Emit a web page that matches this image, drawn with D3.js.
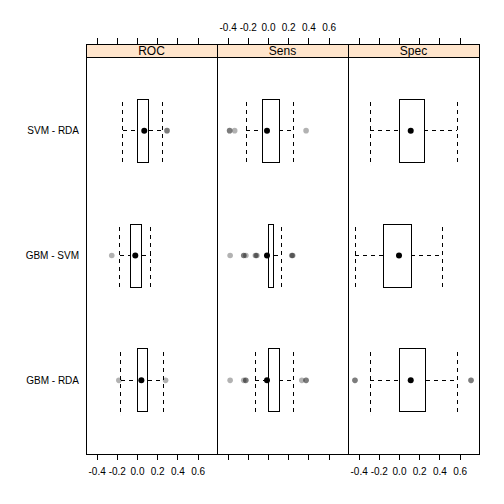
<!DOCTYPE html>
<html>
<head>
<meta charset="utf-8">
<script src="https://cdn.jsdelivr.net/npm/d3@7"></script>
<style>
  body { margin: 0; background: #fff; }
  text { font-family: "Liberation Sans", Arial, sans-serif; }
  line, rect { shape-rendering: crispEdges; }
</style>
</head>
<body>
<div id="chart-area"></div>
<script>
// DATA
var metrics = ["ROC", "Sens", "Spec"];
var comparisons = ["SVM - RDA", "GBM - SVM", "GBM - RDA"];
var ticks = [-0.4, -0.2, 0.0, 0.2, 0.4, 0.6];

// [lower whisker, q1, median, q3, upper whisker] per comparison
var rocStats = [
    [-0.143, 0.0, 0.072, 0.115, 0.257],
    [-0.172, -0.063, -0.017, 0.046, 0.135],
    [-0.162, 0.0, 0.043, 0.105, 0.264]
];
var sensStats = [
    [-0.214, -0.059, -0.01, 0.109, 0.248],
    [0.0, 0.0, -0.01, 0.059, 0.13],
    [-0.128, 0.0, -0.01, 0.109, 0.248]
];
var specStats = [
    [-0.287, 0.0, 0.116, 0.248, 0.578],
    [-0.432, -0.149, 0.0, 0.119, 0.426],
    [-0.287, 0.0, 0.116, 0.267, 0.578]
];

// outliers per comparison (repeated values overlap and look darker)
var rocOut = [
    [0.297, 0.297],
    [-0.25],
    [-0.18, 0.283]
];
var sensOut = [
    [-0.38, -0.38, -0.33, 0.377],
    [-0.375, -0.24, -0.24, -0.219, -0.125, -0.118, -0.11, 0.235, 0.24, 0.245],
    [-0.375, -0.24, -0.22, -0.22, 0.335, 0.377, 0.377]
];
var specOut = [
    [],
    [],
    [-0.436, -0.436, 0.713, 0.713]
];

var allStats = [rocStats, sensStats, specStats];
var allOut = [rocOut, sensOut, specOut];

// LAYOUT
var marginLeft = 86, pw = 131, stripTop = 44, stripH = 13, panelBottom = 454;
var svg = d3.select("#chart-area").append("svg")
    .attr("width", 504).attr("height", 504);

var x = d3.scaleLinear().domain([-0.505, 0.792]).range([0, pw]);
var y = d3.scalePoint().domain(comparisons)
    .range([stripTop + stripH, panelBottom]).padding(0.59);

var fmt = (d) => d.toFixed(1);

// y labels
svg.selectAll(".ylab").data(comparisons).enter()
    .append("text")
    .attr("x", 79).attr("y", (d) => y(d) + 3.5)
    .attr("text-anchor", "end")
    .attr("font-size", "10px")
    .text((d) => d);

metrics.forEach((m, i) => {
    var g = svg.append("g").attr("transform", "translate(" + (marginLeft + i * pw) + ",0)");

    // strip
    g.append("rect").attr("x", 0).attr("y", stripTop).attr("width", pw).attr("height", stripH)
        .attr("fill", "#ffe5cc").attr("stroke", "black");
    g.append("text").attr("x", pw / 2).attr("y", stripTop + 10.5)
        .attr("text-anchor", "middle").attr("font-size", "12px").text(m);

    // panel
    g.append("rect").attr("x", 0).attr("y", stripTop + stripH).attr("width", pw)
        .attr("height", panelBottom - stripTop - stripH).attr("fill", "none").attr("stroke", "black");

    // axes
    var bAxis = d3.axisBottom(x).tickValues(ticks).tickSize(6).tickSizeOuter(0).tickPadding(8)
        .tickFormat(i === 1 ? "" : fmt);
    var tAxis = d3.axisTop(x).tickValues(ticks).tickSize(6).tickSizeOuter(0).tickPadding(7)
        .tickFormat(i === 1 ? fmt : "");
    [g.append("g").attr("transform", "translate(0," + panelBottom + ")").call(bAxis),
     g.append("g").attr("transform", "translate(0," + stripTop + ")").call(tAxis)]
        .forEach((a) => {
            a.select(".domain").remove();
            a.selectAll("line").attr("stroke", "black");
            a.selectAll("text").attr("font-size", "10px").attr("fill", "black")
                .attr("font-family", "'Liberation Sans', Arial, sans-serif");
        });

    var stats = allStats[i];
    var bh = 63;
    comparisons.forEach((c, j) => {
        var s = stats[j], cy = y(c);
        // whiskers
        g.append("line").attr("x1", x(s[0])).attr("x2", x(s[1])).attr("y1", cy).attr("y2", cy)
            .attr("stroke", "black").attr("stroke-dasharray", "4,4");
        g.append("line").attr("x1", x(s[3])).attr("x2", x(s[4])).attr("y1", cy).attr("y2", cy)
            .attr("stroke", "black").attr("stroke-dasharray", "4,4");
        [s[0], s[4]].forEach((v) => {
            g.append("line").attr("x1", x(v)).attr("x2", x(v))
                .attr("y1", cy - bh / 2 + 3).attr("y2", cy + bh / 2)
                .attr("stroke", "black").attr("stroke-dasharray", "4,4");
        });
        // box
        g.append("rect").attr("x", x(s[1])).attr("y", cy - bh / 2)
            .attr("width", x(s[3]) - x(s[1])).attr("height", bh)
            .attr("fill", "none").attr("stroke", "black");
        // outliers
        g.selectAll(null).data(allOut[i][j]).enter().append("circle")
            .attr("cx", (d) => x(d)).attr("cy", cy).attr("r", 2.8)
            .attr("fill", "black").attr("fill-opacity", 0.3);
        // median
        g.append("circle").attr("cx", x(s[2])).attr("cy", cy).attr("r", 3)
            .attr("fill", "black");
    });
});
</script>
</body>
</html>
